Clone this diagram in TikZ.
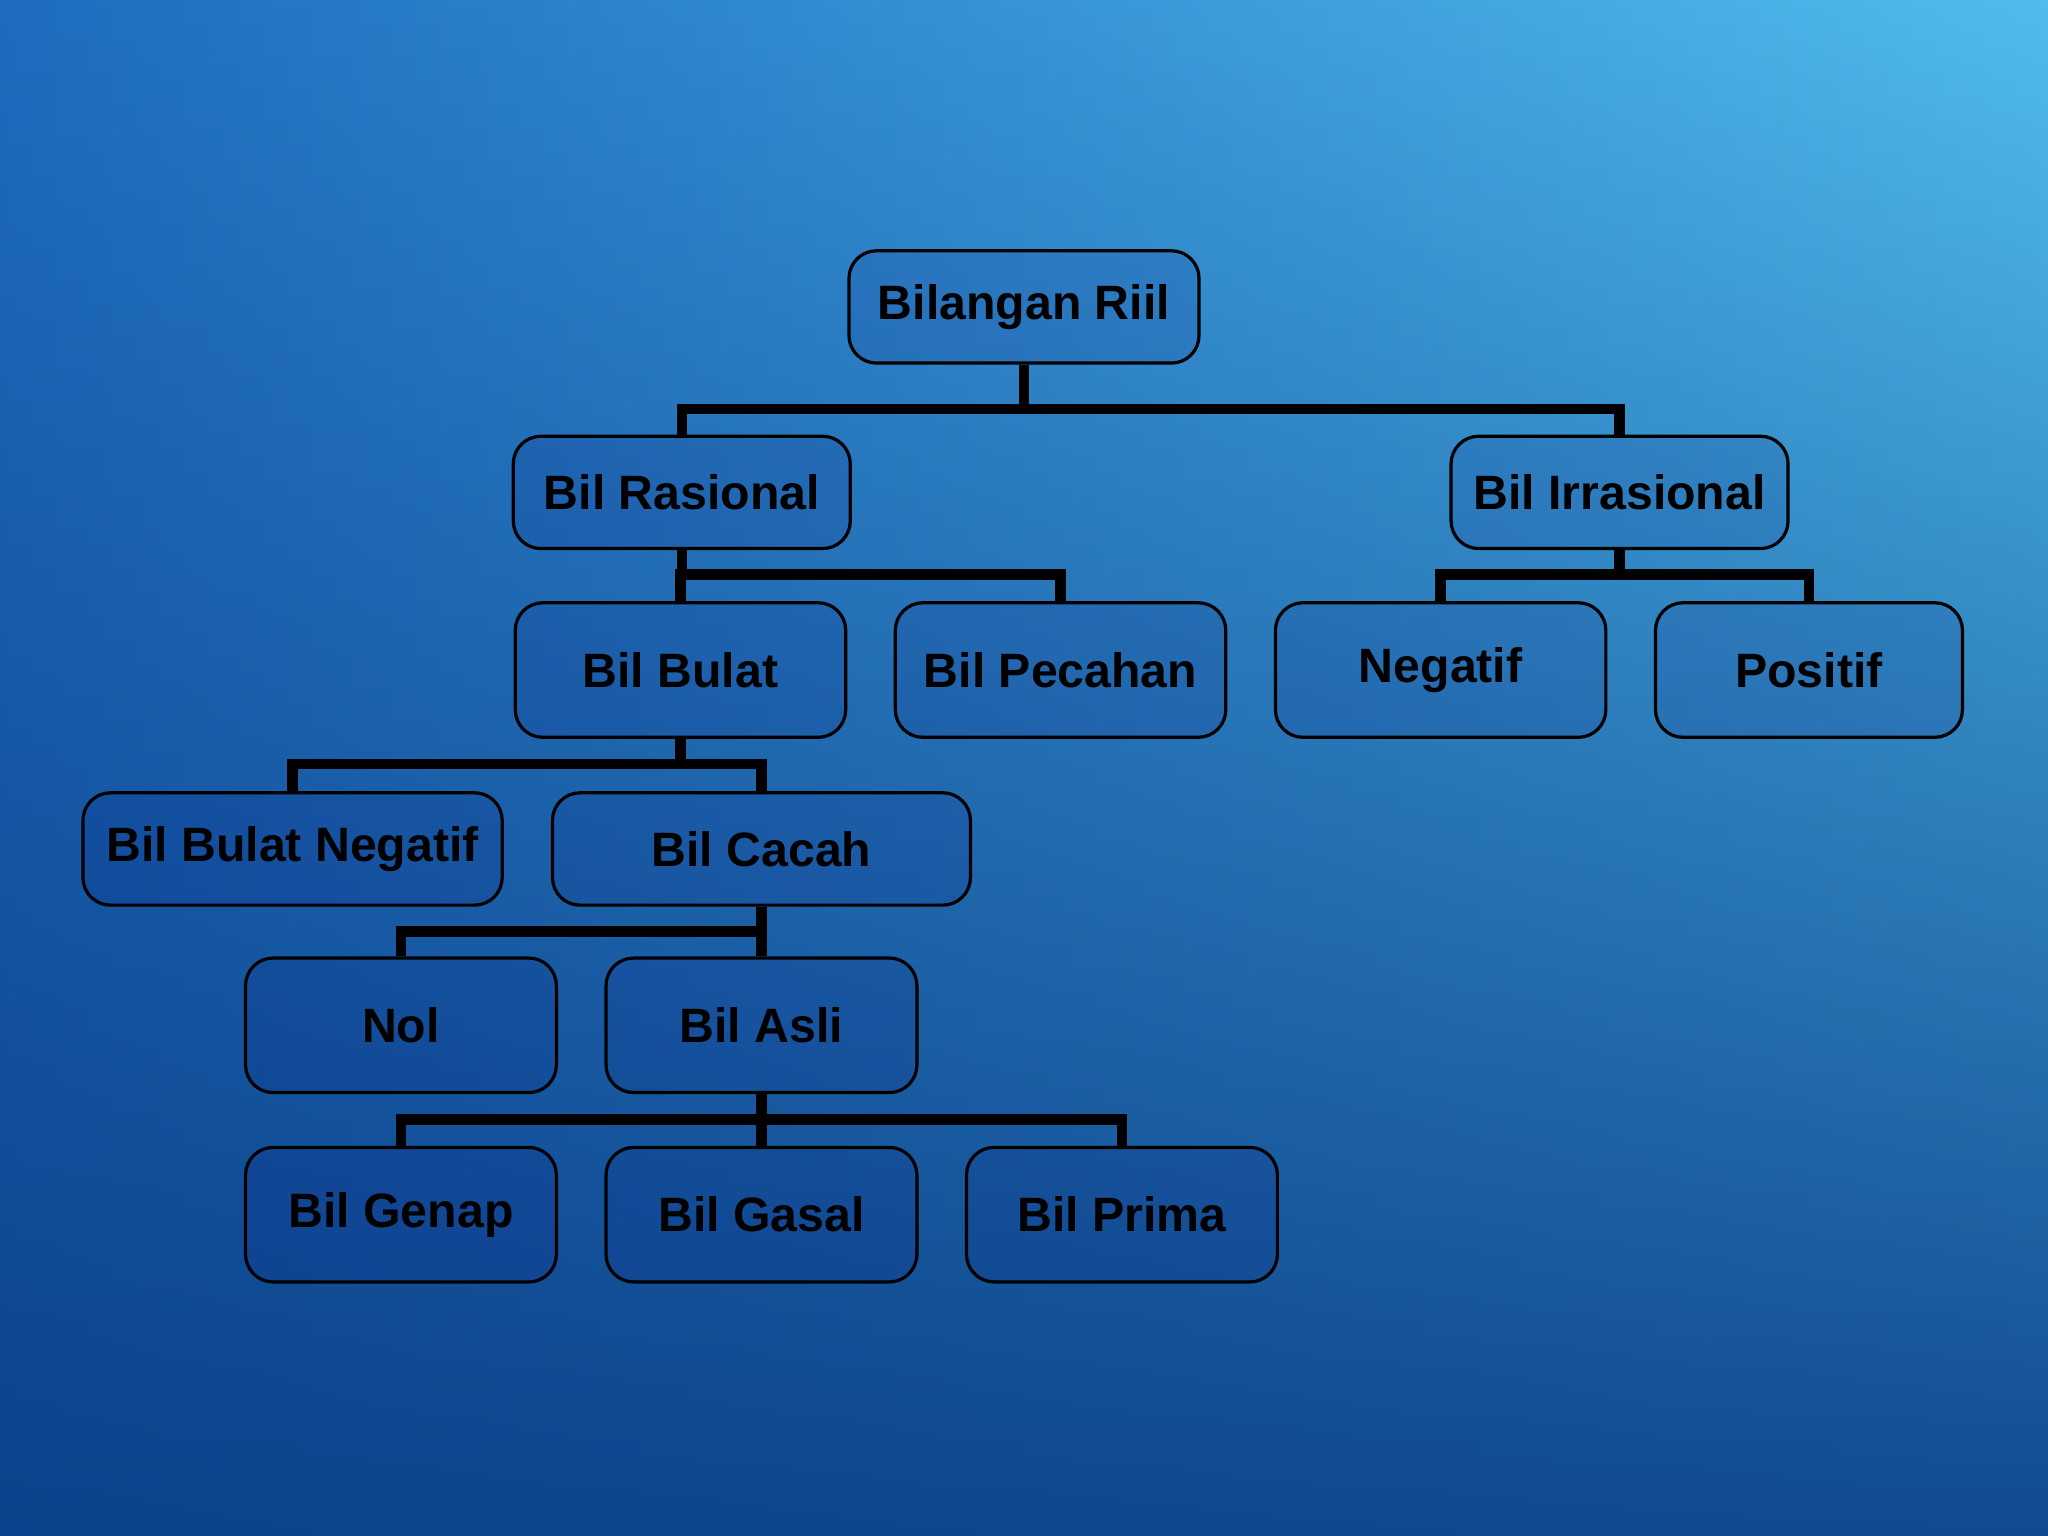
\documentclass[tikz,border=0pt]{standalone}
\usepackage{fontspec}
\setmainfont{Liberation Sans}
\usetikzlibrary{calc,fadings}
\definecolor{bgl}{HTML}{1F6CC0}
\definecolor{bgr}{HTML}{50BDEC}
\definecolor{bgd}{HTML}{0A3E85}
\begin{document}
\begin{tikzpicture}[x=0.01cm,y=-0.01cm,
  box/.style={draw=black,line width=0.7pt,rounded corners=6pt,fill=blue!45!black,fill opacity=0.1,text opacity=1,font=\bfseries\fontsize{10.5}{12}\selectfont,inner sep=0pt},
  conn/.style={line width=2.3pt,draw=black}]
\shade[left color=bgl, right color=bgr] (0,0) rectangle (1568,1176);
\fill[bgd,opacity=0.9,path fading=north] (0,0) rectangle (1568,1176);
\useasboundingbox (0,0) rectangle (1568,1176);
\newcommand{\bx}[6]{\node[box,minimum width=#4*0.01cm,minimum height=#5*0.01cm] (#1) at (#2,#3) {#6};}
\bx{riil}{784}{235}{268}{86}{Bilangan Riil}
\bx{ras}{522}{377}{258}{86}{Bil Rasional}
\bx{irr}{1240}{377}{258}{86}{Bil Irrasional}
\bx{bulat}{521}{513}{253}{103}{Bil Bulat}
\bx{pec}{812}{513}{253}{103}{Bil Pecahan}
\bx{neg}{1103}{513}{253}{103}{Negatif}
\bx{pos}{1385}{513}{235}{103}{Positif}
\bx{bbn}{224}{650}{321}{86}{Bil Bulat Negatif}
\bx{cacah}{583}{650}{320}{86}{Bil Cacah}
\bx{nol}{307}{785}{238}{103}{Nol}
\bx{asli}{583}{785}{238}{103}{Bil Asli}
\bx{genap}{307}{930}{238}{103}{Bil Genap}
\bx{gasal}{583}{930}{238}{103}{Bil Gasal}
\bx{prima}{859}{930}{238}{103}{Bil Prima}
\newcommand{\tree}[3]{\foreach \c in {#3}{\draw[conn] (#1.south) -- (#1.south |- 0,#2) -| (\c.north);}}
\tree{riil}{313}{ras,irr}
\tree{ras}{440}{bulat,pec}
\tree{irr}{440}{neg,pos}
\tree{bulat}{585}{bbn,cacah}
\tree{cacah}{713}{nol,asli}
\tree{asli}{857}{genap,gasal,prima}
\end{tikzpicture}
\end{document}
